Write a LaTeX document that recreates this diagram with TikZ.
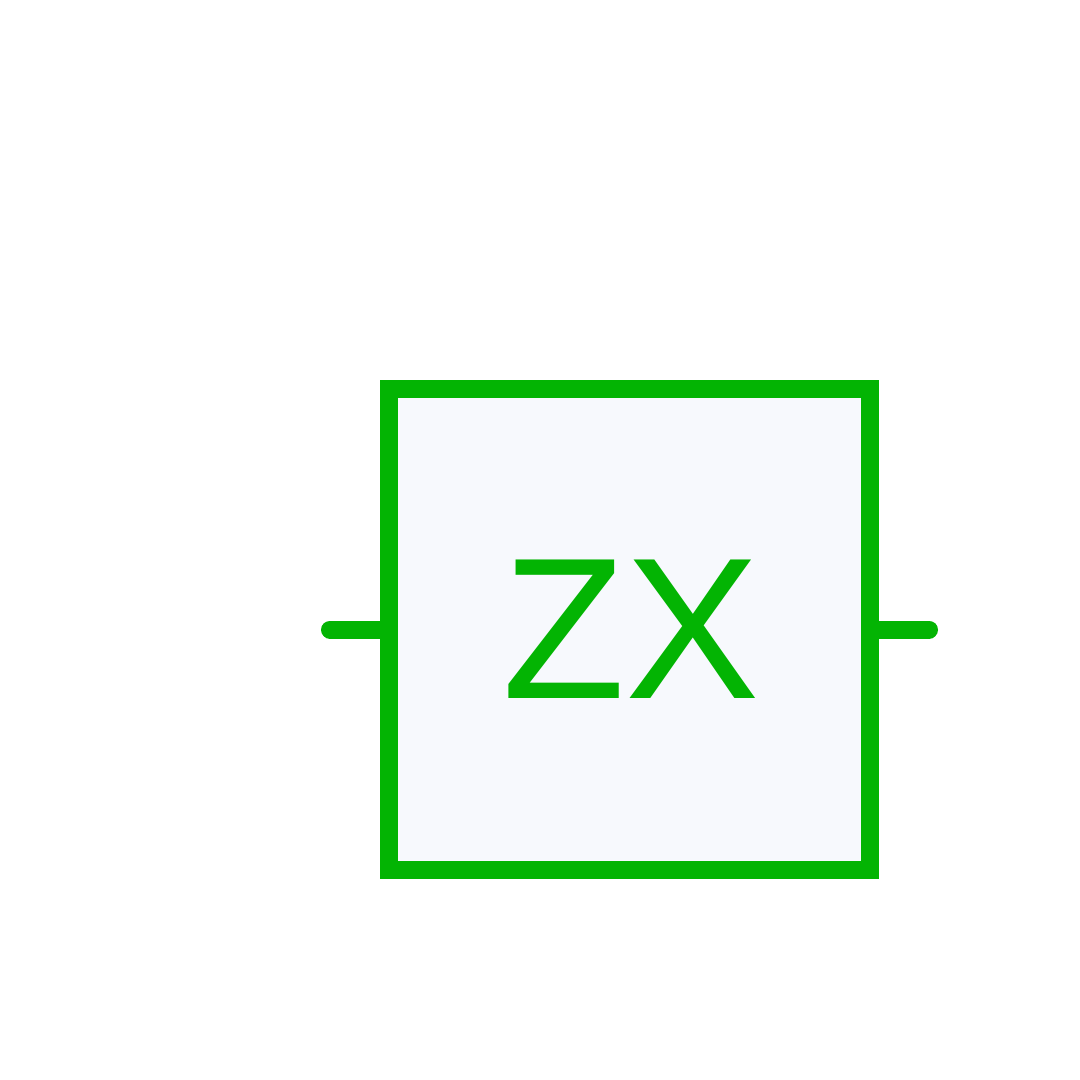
\documentclass[tikz,border=0pt]{standalone}
\usepackage{fontspec}
\newfontfamily\boxfont{Liberation Sans}
\definecolor{vert}{RGB}{3,180,3}
\definecolor{fond}{RGB}{247,249,253}
\begin{document}
\begin{tikzpicture}
\tikzstyle{boite}=[draw=vert, fill=fond, line width=1.8mm, minimum size=4.81cm, inner sep=0pt]
\tikzstyle{fil}=[draw=vert, line width=1.8mm, line cap=round]
\useasboundingbox (0,0) rectangle (10.8,-10.8);
\node[boite] (zx) at (6.295,-6.295) {};
\node[text=vert, inner sep=0pt] (lbl) at (6.31,-6.29) {\fontsize{57.3}{62}\boxfont ZX};
\coordinate (gauche) at (3.30,-6.295);
\coordinate (droite) at (9.29,-6.295);
\draw[fil] (gauche) -- (zx.west);
\draw[fil] (zx.east) -- (droite);
\end{tikzpicture}
\end{document}
